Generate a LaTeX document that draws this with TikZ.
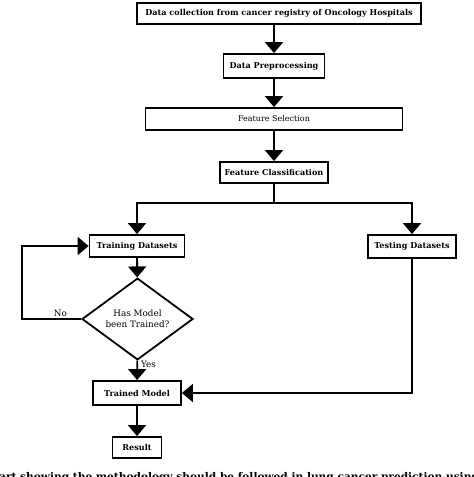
\documentclass[tikz,border=0pt]{standalone}
\usepackage{fontspec}
\setmainfont{DejaVu Serif}
\usetikzlibrary{shapes.geometric, arrows.meta}
\tikzstyle{passo} = [rectangle, draw=black, line width=1.8pt, inner sep=0pt,
text centered, font=\bfseries\fontsize{8.1}{9}\selectfont]
\tikzstyle{scelta} = [diamond, draw=black, line width=1.8pt, inner sep=0pt,
align=center, font=\fontsize{8.8}{11}\selectfont]
\tikzstyle{arrow} = [line width=1.8pt,-{Triangle[width=18pt,length=11pt]}]
\tikzstyle{etichetta} = [inner sep=3pt, font=\fontsize{8.8}{10}\selectfont]

\begin{document}
\begin{tikzpicture}[x=1pt, y=-1pt]
	\useasboundingbox (0,0) rectangle (474,477);
	\node (dc) at (279,13.5) [passo, minimum width=284, minimum height=21] {Data collection from cancer registry of Oncology Hospitals};
	\node (dp) at (274,66) [passo, minimum width=101, minimum height=24] {Data Preprocessing};
	\node (fs) at (274,119) [passo, minimum width=257, minimum height=22, font=\fontsize{8}{9}\selectfont] {Feature Selection};
	\node (fc) at (274,172.5) [passo, minimum width=108, minimum height=21] {Feature Classification};
	\node (tr) at (137,246) [passo, minimum width=95, minimum height=22] {Training Datasets};
	\node (te) at (412,246.5) [passo, minimum width=88, minimum height=23] {Testing Datasets};
	\node (q) at (137.5,319) [scelta, minimum width=111, minimum height=62] {Has Model\\been Trained?};
	\node (tm) at (137,393) [passo, minimum width=88, minimum height=24] {Trained Model};
	\node (r) at (137,447.5) [passo, minimum width=49, minimum height=21] {Result};
	\coordinate (sp) at (274,203);
	\coordinate (no) at (22,319);
	\draw[arrow] (dc.south -| dp) -- (dp);
	\draw[arrow] (dp) -- (fs);
	\draw[arrow] (fs) -- (fc);
	\draw[line width=1.8pt] (fc) -- (sp);
	\draw[arrow] (sp) -| (tr);
	\draw[arrow] (sp) -| (te);
	\draw[arrow] (tr) -- (q);
	\draw[arrow] (q) -- node[etichetta, above, pos=0.35, inner sep=1.5pt] {No} (no) |- (tr);
	\draw[arrow] (q) -- node[etichetta, right, pos=0.2] {Yes} (tm);
	\draw[arrow] (te) |- (tm);
	\draw[arrow] (tm) -- (r);
	% didascalia tagliata in basso
	\begin{scope}
		\clip (0,0) rectangle (474,477);
		\node (cap) at (-1,480) [anchor=base west, inner sep=0pt, font=\bfseries\fontsize{10.6}{13}\selectfont] {art showing the methodology should be followed in lung cancer prediction using};
	\end{scope}
\end{tikzpicture}
\end{document}
